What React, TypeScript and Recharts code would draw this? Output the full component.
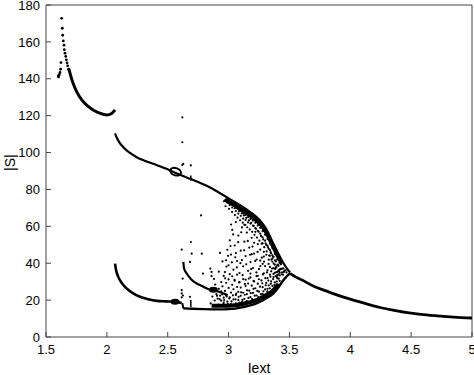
import { ScatterChart, Scatter, XAxis, YAxis } from 'recharts';

const X_TICKS = [1.5, 2, 2.5, 3, 3.5, 4, 4.5, 5];
const Y_TICKS = [0, 20, 40, 60, 80, 100, 120, 140, 160, 180];

// first branch: loose points at the top, then the solid arc
const TOP_DOTS = [
  [1.629, 172.8], [1.634, 167.4], [1.637, 163.6], [1.642, 160.5], [1.648, 158.2],
  [1.65, 155.8], [1.656, 153.9], [1.662, 152.1], [1.667, 150.3], [1.673, 148.6],
  [1.678, 147.0], [1.686, 145.2],
  [1.601, 141.6], [1.603, 141.0], [1.609, 142.2], [1.615, 143.4], [1.62, 145.2], [1.623, 148.8],
];
const TOP_ARC = [
  [1.686, 145.5], [1.692, 144.3], [1.711, 139.8], [1.738, 135.0], [1.774, 130.4], [1.82, 126.6],
  [1.875, 123.6], [1.93, 121.6], [1.999, 120.4], [2.04, 121.2], [2.067, 123.1],
];

// upper branch down to the merge point and the single tail after it
const UPPER = [
  [2.067, 110.4], [2.078, 108.6], [2.1, 105.8], [2.135, 102.9], [2.19, 99.8], [2.245, 97.5],
  [2.31, 95.6], [2.382, 93.9], [2.44, 92.4], [2.49, 91.2], [2.53, 90.0], [2.6, 88.0],
  [2.683, 85.8], [2.75, 84.0], [2.82, 82.0], [2.9, 79.2], [2.985, 75.8], [3.05, 73.2],
  [3.12, 70.4], [3.18, 67.6], [3.23, 65.0], [3.27, 62.3], [3.3, 59.6], [3.33, 56.0],
  [3.355, 52.4], [3.38, 49.0], [3.4, 46.3], [3.437, 41.6], [3.47, 38.0], [3.505, 35.0],
];
const TAIL = [
  [3.505, 34.5], [3.55, 32.6], [3.6, 31.0], [3.7, 27.5], [3.8, 25.0], [3.9, 22.6],
  [4.0, 20.5], [4.1, 18.6], [4.245, 16.0], [4.35, 14.6], [4.5, 12.9], [4.6, 12.1],
  [4.74, 11.3], [4.85, 10.8], [5.0, 10.3],
];

// lower branches
const LOWER = [
  [2.067, 39.8], [2.075, 36.5], [2.094, 32.6], [2.12, 29.5], [2.163, 26.3], [2.21, 23.9],
  [2.272, 21.8], [2.34, 20.5], [2.41, 19.6], [2.48, 19.3], [2.56, 19.1], [2.615, 18.4],
];
const FLOOR = [
  [2.628, 15.5], [2.7, 15.3], [2.8, 15.1], [2.93, 15.0], [3.0, 15.1],
  [3.12, 16.2], [3.2, 17.5], [3.258, 19.1], [3.31, 21.0], [3.368, 23.6], [3.41, 27.0],
  [3.45, 30.8], [3.48, 33.0], [3.505, 34.5],
];
const INNER = [
  [2.628, 40.7], [2.635, 37.0], [2.656, 34.4], [2.69, 31.5], [2.738, 29.0], [2.765, 28.2],
  [2.8, 27.0], [2.848, 25.7], [2.875, 25.5], [2.92, 24.5], [2.993, 22.7],
];
const STUB_DROP = [[2.62, 18.4], [2.628, 15.5]];
const STUB_LOW = [[2.69, 16.2], [2.69, 20.0]];
const STUB_HIGH = [[2.69, 84.7], [2.69, 87.5]];

// dark shading hugging the edges of the chaotic region
const BAND_TOP = [
  [2.97, 74.5], [3.05, 71.4], [3.12, 68.6], [3.18, 65.8], [3.23, 63.2], [3.27, 60.5],
  [3.3, 57.8], [3.33, 54.2], [3.355, 50.6], [3.38, 47.2], [3.4, 44.5], [3.437, 39.8],
];
const BAND_LOW = [
  [2.86, 16.9], [2.95, 16.9], [3.05, 17.2], [3.12, 18.0], [3.2, 19.3], [3.258, 20.9],
  [3.31, 22.8], [3.368, 25.4], [3.41, 28.8],
];

const BLOBS = [[2.56, 19.1], [2.875, 25.6]];
const LOOPS = [[2.565, 89.6]];

// chaotic region
const CLOUD = [
  // under the upper branch
  [2.97, 74.1], [2.99, 72.8], [3.0, 73.9], [3.01, 71.5], [3.02, 73.0], [3.03, 70.2], [3.04, 72.1],
  [3.05, 69.8], [3.06, 71.4], [3.06, 68.3], [3.07, 70.6], [3.08, 69.2], [3.08, 66.9], [3.09, 70.0],
  [3.1, 68.4], [3.1, 65.7], [3.11, 69.3], [3.12, 67.0], [3.12, 64.2], [3.13, 68.1], [3.14, 66.2],
  [3.14, 63.5], [3.15, 67.5], [3.16, 65.0], [3.16, 62.1], [3.17, 66.3], [3.18, 64.0], [3.18, 61.5],
  [3.19, 65.2], [3.2, 63.1], [3.2, 60.4], [3.21, 64.4], [3.22, 62.0], [3.22, 59.0], [3.23, 62.8],
  [3.24, 60.5], [3.24, 57.6], [3.25, 61.7], [3.26, 59.2], [3.26, 56.1], [3.27, 60.3], [3.28, 57.4],
  [3.28, 54.0], [3.29, 58.1], [3.3, 55.5], [3.3, 52.2], [3.31, 56.6], [3.32, 53.1], [3.32, 49.5],
  [3.33, 54.2], [3.34, 50.7], [3.34, 47.1], [3.35, 51.0], [3.36, 48.2], [3.36, 44.3], [3.37, 47.9],
  [3.38, 45.0], [3.38, 41.6], [3.39, 44.8], [3.4, 42.1], [3.4, 38.9], [3.41, 43.0], [3.42, 40.2],
  [3.42, 36.5], [3.43, 39.4], [3.44, 37.1],
  [2.962, 73.6], [2.975, 70.9], [2.988, 74.4], [3.004, 69.5], [3.017, 72.6], [3.029, 67.8],
  [3.043, 71.0], [3.052, 66.1], [3.066, 69.9], [3.074, 64.7], [3.087, 68.2], [3.095, 63.3],
  [3.108, 67.1], [3.117, 62.0], [3.126, 65.9], [3.137, 60.8], [3.146, 64.6], [3.153, 59.5],
  [3.167, 63.2], [3.174, 58.3], [3.186, 61.9], [3.194, 57.0], [3.207, 60.3], [3.213, 55.4],
  [3.226, 58.7], [3.234, 53.9], [3.247, 57.1], [3.253, 52.2], [3.266, 55.0], [3.272, 50.6],
  [3.285, 52.9], [3.293, 48.7], [3.304, 50.8], [3.313, 46.4], [3.324, 48.6], [3.333, 44.2],
  [3.346, 46.0], [3.352, 41.9], [3.364, 43.5], [3.371, 39.8], [3.385, 41.4], [3.392, 37.6],
  [3.405, 39.3], [3.414, 35.7], [3.427, 37.0],
  // lower band
  [2.9, 23.2], [2.91, 20.8], [2.92, 26.1], [2.93, 22.4], [2.94, 19.7], [2.94, 24.8], [2.95, 27.5],
  [2.96, 21.3], [2.96, 18.6], [2.97, 25.0], [2.98, 29.4], [2.98, 22.7], [2.99, 19.2], [3.0, 26.6],
  [3.0, 31.2], [3.01, 21.5], [3.02, 24.1], [3.02, 17.9], [3.03, 28.3], [3.04, 20.4], [3.04, 25.9],
  [3.05, 30.5], [3.06, 22.8], [3.06, 18.3], [3.07, 27.1], [3.08, 24.5], [3.08, 20.1], [3.09, 29.7],
  [3.1, 22.3], [3.1, 26.8], [3.11, 18.9], [3.12, 31.4], [3.12, 24.0], [3.13, 20.7], [3.14, 27.6],
  [3.15, 23.2], [3.15, 19.4], [3.16, 29.0], [3.17, 25.1], [3.18, 21.6], [3.18, 32.3], [3.19, 27.8],
  [3.2, 23.9], [3.2, 20.2], [3.21, 30.1], [3.22, 26.4], [3.23, 22.5], [3.24, 28.9], [3.24, 33.2],
  [3.25, 24.6], [3.26, 21.3], [3.27, 30.7], [3.28, 27.0], [3.28, 23.4], [3.29, 34.5], [3.3, 25.8],
  [3.31, 29.3], [3.32, 26.1], [3.32, 31.9], [3.33, 28.0], [3.34, 33.8], [3.35, 30.2], [3.36, 27.7],
  [3.37, 32.5], [3.38, 29.6], [3.39, 35.1], [3.4, 31.8], [3.41, 34.0], [3.42, 30.5],
  [2.853, 18.2], [2.867, 21.9], [2.874, 17.1], [2.886, 19.8], [2.897, 16.6], [2.905, 22.3],
  [2.918, 17.6], [2.927, 20.5], [2.936, 16.9], [2.948, 23.1], [2.957, 17.8], [2.964, 20.0],
  [2.977, 16.4], [2.985, 22.0], [2.994, 18.0], [3.006, 20.9], [3.013, 16.8], [3.024, 19.3],
  [3.036, 22.6], [3.045, 17.2], [3.057, 20.4], [3.063, 23.5], [3.072, 17.9], [3.083, 21.8],
  [3.091, 18.6], [3.103, 24.2], [3.114, 20.1], [3.122, 17.6], [3.133, 22.9], [3.141, 19.0],
  [3.152, 25.3], [3.163, 21.2], [3.171, 18.5], [3.182, 23.8], [3.193, 20.6], [3.204, 26.1],
  [3.215, 22.4], [3.227, 19.9], [3.236, 25.0], [3.245, 21.7], [3.258, 27.3], [3.266, 23.2],
  [3.277, 29.1], [3.286, 24.8], [3.297, 22.3], [3.305, 28.0], [3.318, 24.7], [3.327, 30.6],
  [3.339, 26.4], [3.347, 28.9], [3.358, 25.6], [3.366, 31.4], [3.377, 28.2], [3.388, 33.0],
  [3.396, 30.1],
  // right edge
  [3.3, 38.4], [3.31, 44.6], [3.32, 36.2], [3.33, 41.9], [3.34, 38.0], [3.35, 45.3], [3.35, 35.6],
  [3.36, 40.8], [3.37, 37.3], [3.37, 43.5], [3.38, 34.8], [3.38, 39.2], [3.39, 41.0], [3.39, 37.9],
  [3.4, 35.3], [3.4, 33.6], [3.41, 38.6], [3.41, 36.1], [3.42, 33.4], [3.42, 34.9], [3.43, 36.8],
  [3.44, 35.0], [3.45, 37.2], [3.46, 36.0], [3.33, 47.8], [3.34, 44.0], [3.36, 42.5], [3.31, 49.9],
  [3.29, 46.2], [3.28, 50.8], [3.447, 33.8], [3.436, 34.0], [3.455, 35.3], [3.468, 36.2], [3.476, 35.0],
  // sparse middle
  [2.97, 35.2], [2.98, 41.6], [2.99, 47.3], [3.0, 38.9], [3.01, 52.4], [3.02, 44.7], [3.03, 58.1],
  [3.04, 36.5], [3.05, 49.6], [3.06, 62.3], [3.07, 41.2], [3.08, 55.0], [3.09, 34.7], [3.1, 46.8],
  [3.11, 59.4], [3.12, 38.3], [3.13, 51.7], [3.14, 43.9], [3.15, 56.6], [3.16, 35.9], [3.17, 48.5],
  [3.18, 40.6], [3.19, 53.8], [3.2, 37.4], [3.21, 45.2], [3.22, 57.0], [3.23, 42.0], [3.24, 50.3],
  [3.25, 36.8], [3.26, 47.4], [3.27, 54.5], [3.28, 39.7], [3.29, 43.6], [3.03, 32.9], [3.07, 33.8],
  [3.14, 31.1], [3.18, 34.4], [3.23, 33.0], [3.11, 41.7], [3.19, 44.9], [3.06, 45.5], [3.02, 61.0],
  [3.13, 60.8], [3.21, 51.1], [3.26, 41.4],
  [2.972, 31.8], [2.983, 38.2], [2.996, 44.0], [3.009, 34.1], [3.016, 49.3], [3.027, 40.5],
  [3.038, 55.6], [3.049, 31.0], [3.055, 43.2], [3.068, 37.7], [3.079, 51.4], [3.086, 29.6],
  [3.097, 40.0], [3.104, 56.8], [3.115, 33.5], [3.128, 47.0], [3.134, 28.8], [3.145, 39.4],
  [3.158, 52.1], [3.166, 31.7], [3.177, 44.6], [3.185, 36.8], [3.197, 49.0], [3.205, 30.4],
  [3.218, 41.2], [3.229, 35.0], [3.238, 46.1], [3.249, 31.3], [3.261, 38.5], [3.273, 43.0],
  [3.282, 33.9], [3.291, 40.9], [3.302, 31.9], [3.316, 35.0], [3.329, 39.6], [3.344, 32.7],
  [3.357, 37.1], [3.369, 34.2], [3.383, 36.9], [3.398, 32.5], [3.412, 31.6],
  // left fringe
  [2.88, 31.5], [2.92, 35.4], [2.94, 29.8], [2.95, 41.0], [2.96, 33.1], [2.93, 45.6], [2.89, 28.4],
];

const STRAYS = [
  [2.62, 119.1], [2.62, 105.6], [2.628, 93.9], [2.62, 93.2], [2.69, 93.0], [2.774, 65.9],
  [2.69, 51.5], [2.615, 47.4], [2.78, 45.2], [2.697, 45.2], [2.683, 40.7], [2.79, 34.4],
  [2.86, 35.3], [2.86, 33.0], [2.623, 31.7], [2.615, 25.4], [2.615, 23.6], [2.85, 37.1],
  [2.683, 21.8], [2.615, 21.5], [2.625, 22.5],
];

const pts = (arr: number[][]) => arr.map(([x, y]) => ({ x, y }));

const dot = (r: number) => (p: any) => <circle cx={p.cx} cy={p.cy} r={r} fill="#000" />;
const noMark = () => <g />;
const blob = (p: any) => <ellipse cx={p.cx} cy={p.cy} rx={4.5} ry={3} fill="#000" />;
const loop = (p: any) => (
  <ellipse
    cx={p.cx}
    cy={p.cy}
    rx={5.5}
    ry={3.6}
    fill="none"
    stroke="#000"
    strokeWidth={2}
    transform={`rotate(20 ${p.cx} ${p.cy})`}
  />
);

const AXIS = '#444';
const tickStyle = { fill: '#000', fontSize: 13 };

export default function App() {
  const curves: [number[][], number, string][] = [
    [TOP_ARC, 3, 'monotoneX'],
    [UPPER, 2.2, 'monotoneX'],
    [TAIL, 2.8, 'monotoneX'],
    [LOWER, 2.6, 'monotoneX'],
    [FLOOR, 2.4, 'monotoneX'],
    [INNER, 2.2, 'monotoneX'],
    [BAND_TOP, 4, 'monotoneX'],
    [BAND_LOW, 4, 'monotoneX'],
    [STUB_DROP, 2, 'linear'],
    [STUB_LOW, 1.5, 'linear'],
    [STUB_HIGH, 1.5, 'linear'],
  ];
  return (
    <div style={{ position: 'absolute', left: 0, top: 0, fontFamily: '"Liberation Sans", Arial, sans-serif' }}>
      <ScatterChart width={474} height={375} margin={{ top: 0, right: 0, bottom: 0, left: 0 }}>
        <XAxis
          type="number"
          dataKey="x"
          domain={[1.5, 5]}
          ticks={X_TICKS}
          interval={0}
          height={38}
          tickSize={-5}
          tickMargin={13}
          tick={tickStyle}
          axisLine={{ stroke: AXIS }}
          tickLine={{ stroke: AXIS }}
          label={{ value: 'Iext', position: 'insideBottom', offset: 2, fill: '#000', fontSize: 14 }}
        />
        <XAxis
          xAxisId="top"
          orientation="top"
          type="number"
          dataKey="x"
          domain={[1.5, 5]}
          ticks={X_TICKS}
          interval={0}
          height={5}
          tickSize={-5}
          tickFormatter={() => ''}
          axisLine={{ stroke: AXIS }}
          tickLine={{ stroke: AXIS }}
        />
        <YAxis
          type="number"
          dataKey="y"
          domain={[0, 180]}
          ticks={Y_TICKS}
          interval={0}
          width={46}
          tickSize={-5}
          tickMargin={11}
          tick={tickStyle}
          axisLine={{ stroke: AXIS }}
          tickLine={{ stroke: AXIS }}
          label={{ value: '|S|', angle: -90, position: 'insideLeft', offset: 10, fill: '#000', fontSize: 14 }}
        />
        <YAxis
          yAxisId="right"
          orientation="right"
          type="number"
          dataKey="y"
          domain={[0, 180]}
          ticks={Y_TICKS}
          interval={0}
          width={2}
          tickSize={-5}
          tickFormatter={() => ''}
          axisLine={{ stroke: AXIS }}
          tickLine={{ stroke: AXIS }}
        />
        {curves.map(([arr, w, kind], i) => (
          <Scatter
            key={i}
            data={pts(arr)}
            fill="#000"
            line={{ strokeWidth: w }}
            lineJointType={kind as any}
            shape={noMark}
            isAnimationActive={false}
          />
        ))}
        <Scatter data={pts(TOP_DOTS)} fill="#000" shape={dot(1.4)} isAnimationActive={false} />
        <Scatter data={pts(CLOUD)} fill="#000" shape={dot(1.1)} isAnimationActive={false} />
        <Scatter data={pts(STRAYS)} fill="#000" shape={dot(1.1)} isAnimationActive={false} />
        <Scatter data={pts(BLOBS)} fill="#000" shape={blob} isAnimationActive={false} />
        <Scatter data={pts(LOOPS)} fill="#000" shape={loop} isAnimationActive={false} />
      </ScatterChart>
    </div>
  );
}
